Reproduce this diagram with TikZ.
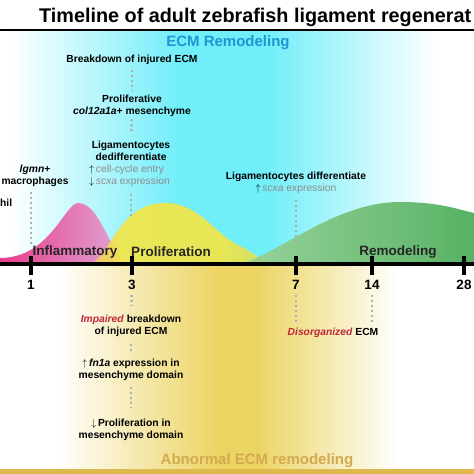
\documentclass[tikz,border=0pt]{standalone}
\usepackage{fontspec}
\setmainfont{Liberation Sans}

\definecolor{cyanpk}{RGB}{112,238,250}
\definecolor{goldpk}{RGB}{236,212,98}
\definecolor{goldbar}{RGB}{222,186,78}
\definecolor{goldtx}{RGB}{212,170,80}
\definecolor{ecmblue}{RGB}{30,150,210}
\definecolor{redtx}{RGB}{190,40,55}
\definecolor{graytx}{RGB}{140,140,140}
\definecolor{dotgray}{RGB}{175,175,175}
\definecolor{pinkL}{RGB}{232,60,140}
\definecolor{pinkR}{RGB}{224,170,214}
\definecolor{yelL}{RGB}{244,196,110}
\definecolor{yelM}{RGB}{242,230,72}
\definecolor{yelR}{RGB}{214,222,96}
\definecolor{grnL}{RGB}{160,210,150}
\definecolor{grnR}{RGB}{72,172,88}

\pgfdeclarehorizontalshading{ecmtop}{100bp}{color(0bp)=(white); color(26bp)=(white); color(44bp)=(cyanpk); color(53bp)=(cyanpk); color(71bp)=(white); color(100bp)=(white)}
\pgfdeclarehorizontalshading{ecmlow}{100bp}{color(0bp)=(white); color(31bp)=(white); color(48bp)=(goldpk); color(52bp)=(goldpk); color(67bp)=(white); color(100bp)=(white)}
\pgfdeclarehorizontalshading{yelshade}{100bp}{color(0bp)=(yelL); color(25bp)=(yelL); color(33bp)=(yelM); color(60bp)=(yelM); color(75bp)=(yelR); color(100bp)=(yelR)}

\begin{document}
\begin{tikzpicture}[x=1pt,y=-1pt]
            \tikzstyle{note}=[font=\fontsize{10.3}{12.5}\selectfont\bfseries,align=center,inner sep=1pt]
            \tikzstyle{grey}=[font=\fontsize{10.3}{12.5}\selectfont,text=graytx,align=left,inner sep=1pt]
            \tikzstyle{phase}=[font=\fontsize{13.5}{16}\selectfont\bfseries,text=black!85,inner sep=0pt]
            \tikzstyle{day}=[font=\fontsize{13.5}{16}\selectfont\bfseries,inner sep=1pt]
            \tikzstyle{head}=[font=\fontsize{15}{18}\selectfont\bfseries,inner sep=0pt]
            \tikzstyle{dots}=[draw=dotgray,line width=2.6pt,dash pattern=on 2pt off 3pt]
            \tikzstyle{daytick}=[line width=3.5pt]
            \useasboundingbox (0,0) rectangle (474,474);
            \clip (0,0) rectangle (474,474);
            % backgrounds
            \shade[shading=ecmtop] (0,31) rectangle (474,264);
            \shade[shading=ecmlow] (0,264) rectangle (474,470);
            \fill[goldbar] (0,469) rectangle (474,474);
            \node[anchor=base west,font=\fontsize{19.8}{24}\selectfont\bfseries,inner sep=0pt] (title) at (39,22) {Timeline of adult zebrafish ligament regenerat};
            \draw[line width=2.2pt] (0,30) -- (474,30);
            % phase curves
            \begin{scope}
            \shade[left color=pinkL,right color=pinkR] (0,264) -- (0,258) .. controls (50,258) and (65,203) .. (78,203) .. controls (100,203) and (108,250) .. (128,264) -- cycle;
            \shade[shading=yelshade,fill opacity=0.92] (90,264) .. controls (110,258) and (118,203) .. (165,203) .. controls (200,203) and (215,235) .. (240,246) .. controls (255,253) and (262,262) .. (275,264) -- cycle;
            \shade[left color=grnL,right color=grnR,fill opacity=0.92] (235,264) .. controls (270,262) and (330,202) .. (400,202) .. controls (440,202) and (460,210) .. (474,213) -- (474,264) -- cycle;
            \end{scope}
            % time axis
            \draw[line width=3.5pt] (0,264) -- (474,264);
            \foreach \x in {31,132,296,372,464}
                \draw[daytick] (\x,256) -- (\x,275);
            \node[day] (d1) at (31,285) {1};
            \node[day] (d3) at (132,285) {3};
            \node[day] (d7) at (296,285) {7};
            \node[day] (d14) at (372,285) {14};
            \node[day] (d28) at (464,285) {28};
            \node[phase] (infl) at (75,252) {Inflammatory};
            \node[phase] (prol) at (171,252) {Proliferation};
            \node[phase] (remod) at (398,252) {Remodeling};
            % normal regeneration
            \node[head,text=ecmblue] (ecm) at (228,43) {ECM Remodeling};
            \node[note] (brk) at (132,60) {Breakdown of injured ECM};
            \node[note] (prolif) at (132,106) {Proliferative\\\textit{col12a1a}+ mesenchyme};
            \node[note] (dediff) at (131,151) {Ligamentocytes\\dedifferentiate};
            \node[grey,anchor=west] (cycle) at (88,176) {\textcolor{black}{$\uparrow$}\,cell-cycle entry\\\textcolor{black}{$\downarrow$}\,\textit{scxa} expression};
            \node[note] (lgmn) at (35,176) {\textit{lgmn}+\\macrophages};
            \node[note,anchor=west] (neut) at (-1,203) {hil};
            \node[note] (diff) at (296,177) {Ligamentocytes differentiate};
            \node[grey] (scxup) at (296,189) {\textcolor{black}{$\uparrow$}\,\textit{scxa} expression};
            \coordinate (c3) at (131,216);
            \coordinate (c1) at (31,247);
            \coordinate (c7) at (296,242);
            \draw[dots,shorten <=4pt,shorten >=3pt] (brk) -- (prolif);
            \draw[dots,shorten <=1pt,shorten >=8pt] (prolif) -- (dediff);
            \draw[dots,shorten <=6pt] (cycle.south -| dediff) -- (c3);
            \draw[dots,shorten <=4pt] (lgmn.south -| c1) -- (c1);
            \draw[dots,shorten <=5pt] (scxup) -- (c7);
            % mutant
            \node[note] (impair) at (131,326) {\textcolor{redtx}{\textit{Impaired}} breakdown\\of injured ECM};
            \node[note] (fn1a) at (131,370) {$\uparrow$\,\textit{fn1a} expression in\\mesenchyme domain};
            \node[note] (down) at (131,430) {$\downarrow$\,Proliferation in\\mesenchyme domain};
            \node[note] (disorg) at (333,333) {\textcolor{redtx}{\textit{Disorganized}} ECM};
            \node[head,text=goldtx] (abn) at (257,461) {Abnormal ECM remodeling};
            \draw[dots,shorten <=4pt,shorten >=8pt] (d3) -- (impair);
            \draw[dots,shorten <=6pt,shorten >=5pt] (impair) -- (fn1a);
            \draw[dots,shorten <=5pt,shorten >=10pt] (fn1a) -- (down);
            \draw[dots,shorten <=4pt,shorten >=3pt] (d7) -- (d7 |- disorg.north);
            \draw[dots,shorten <=4pt,shorten >=3pt] (d14) -- (d14 |- disorg.north);
\end{tikzpicture}
\end{document}
